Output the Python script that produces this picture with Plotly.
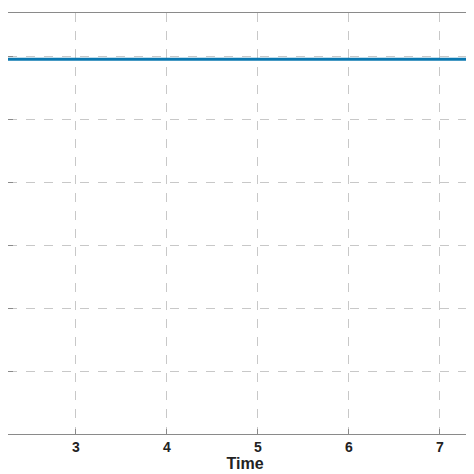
import plotly.graph_objects as go

# 数据
time = [2.0, 3, 4, 5, 6, 7, 7.6]
value = [1.19, 1.19, 1.19, 1.19, 1.19, 1.19, 1.19]
x_ticks = [3, 4, 5, 6, 7]
y_ticks = [0, 0.2, 0.4, 0.6, 0.8, 1.0, 1.2]

fig = go.Figure()
fig.add_trace(go.Scatter(x=time, y=value, mode='lines',
                         line=dict(color='#0b78b0', width=3), showlegend=False))

axis_style = dict(showgrid=True, gridcolor='#c8c8c8', griddash='dash', gridwidth=1,
                  showline=True, linecolor='#8a8a8a', linewidth=1, mirror=True,
                  ticks='inside', ticklen=5, tickcolor='#8a8a8a', zeroline=False)

fig.update_layout(
    width=474, height=474,
    margin=dict(l=0, r=0, t=5, b=48),
    plot_bgcolor='white', paper_bgcolor='white',
    font=dict(family='Liberation Sans, Arial', size=14, color='#222'),
    xaxis=dict(range=[2.253, 7.462], tickvals=x_ticks,
               tickfont=dict(size=14, color='#222', weight='bold'),
               title=dict(text='Time', standoff=4,
                          font=dict(size=16, weight='bold')),
               **axis_style),
    yaxis=dict(range=[0, 1.337], tickvals=y_ticks, showticklabels=False, **axis_style),
)

fig.write_html('out.html')
